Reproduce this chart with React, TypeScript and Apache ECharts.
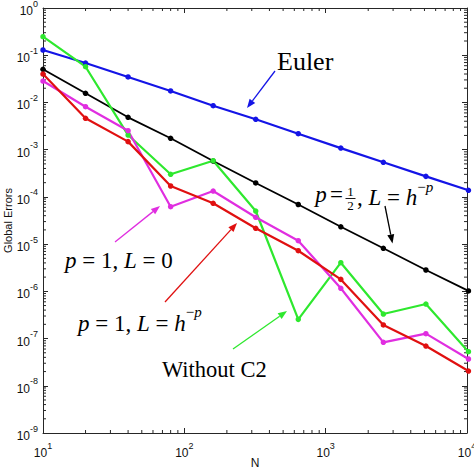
import React, { useEffect, useRef } from 'react';
import * as echarts from 'echarts';

// Number of steps N (h = 1/N)
const N = [10, 20, 40, 80, 160, 320, 640, 1280, 2560, 5120, 10240];

// Global errors for each scheme
const eulerErr = [0.129, 0.0684, 0.0346, 0.0175, 0.00853, 0.0044, 0.00218, 0.00108, 5.4e-4, 2.72e-4, 1.38e-4];
const halfHpErr = [0.0504, 0.0156, 0.00484, 0.00174, 5.75e-4, 1.97e-4, 6.9e-5, 2.33e-5, 8.15e-6, 2.83e-6, 1.02e-6];
const oneHpErr = [0.04, 0.00461, 0.00148, 1.7e-4, 7.31e-5, 2.16e-5, 7.24e-6, 1.79e-6, 1.94e-7, 6.95e-8, 2.05e-8];
const oneL0Err = [0.0284, 0.00813, 0.00252, 6.19e-5, 1.33e-4, 3.7e-5, 1.18e-5, 1.16e-6, 8.32e-8, 1.27e-7, 3.69e-8];
const noC2Err = [0.247, 0.0571, 0.00204, 3.01e-4, 5.83e-4, 5.02e-5, 2.55e-7, 4.04e-6, 3.31e-7, 5.38e-7, 5.26e-8];

// Axis ranges and minor tick positions (2..9 times each decade)
const X_MIN = 10;
const X_MAX = 10000;
const Y_MIN = 1e-9;
const Y_MAX = 1;
const minorMultipliers = [2, 3, 4, 5, 6, 7, 8, 9];
const xMinorDecades = [1, 2, 3];
const yMinorDecades = [-9, -8, -7, -6, -5, -4, -3, -2, -1];

const BLUE = '#1414e6';
const BLACK = '#000000';
const RED = '#e01010';
const GREEN = '#2ee82e';
const MAGENTA = '#e02ee0';
const AXIS = '#262626';

const sans = '"Liberation Sans", Arial, Helvetica, sans-serif';
const serif = '"Liberation Serif", "Times New Roman", serif';

const tickLabelRich = {
  b: { fontFamily: sans, fontSize: 12, lineHeight: 18, verticalAlign: 'bottom', color: '#111' },
  s: { fontFamily: sans, fontSize: 9, lineHeight: 8, verticalAlign: 'top', color: '#111' },
};
const powerLabel = (v: number) => `{b|10}{s|${Math.round(Math.log10(v))}}`;

function arrow(x1: number, y1: number, x2: number, y2: number, color: string) {
  const ang = Math.atan2(y2 - y1, x2 - x1);
  const len = 9;
  const half = 3.5;
  const bx = x2 - len * Math.cos(ang);
  const by = y2 - len * Math.sin(ang);
  const px = -Math.sin(ang) * half;
  const py = Math.cos(ang) * half;
  return [
    { type: 'line', silent: true, shape: { x1, y1, x2: bx, y2: by }, style: { stroke: color, lineWidth: 1.3 } },
    {
      type: 'polygon',
      silent: true,
      shape: { points: [[x2, y2], [bx + px, by + py], [bx - px, by - py]] },
      style: { fill: color },
    },
  ];
}

function mathRich(size: number, boxH: number) {
  return {
    n: { fontFamily: serif, fontSize: size, lineHeight: boxH, verticalAlign: 'bottom', fill: '#000' },
    i: { fontFamily: serif, fontSize: size, fontStyle: 'italic', lineHeight: boxH, verticalAlign: 'bottom', fill: '#000' },
    sn: { fontFamily: serif, fontSize: 15, lineHeight: 14, verticalAlign: 'top', fill: '#000' },
    si: { fontFamily: serif, fontSize: 15, fontStyle: 'italic', lineHeight: 14, verticalAlign: 'top', fill: '#000' },
  };
}

function lineSeries(name: string, values: number[], color: string, width: number) {
  return {
    name,
    type: 'line',
    data: N.map((n, i) => [n, values[i]]),
    symbol: 'circle',
    symbolSize: 5.5,
    clip: false,
    lineStyle: { color, width },
    itemStyle: { color },
    emphasis: { disabled: true },
  };
}

export default function App() {
  const ref = useRef<HTMLDivElement>(null);

  useEffect(() => {
    if (!ref.current) return;
    const chart = echarts.init(ref.current, undefined, { renderer: 'svg' });

    const xMinor = xMinorDecades.flatMap((d) => minorMultipliers.map((m) => m * Math.pow(10, d)));
    const yMinor = yMinorDecades.flatMap((d) => minorMultipliers.map((m) => m * Math.pow(10, d)));

    const tickStyle = { stroke: AXIS, lineWidth: 1 };

    const option: any = {
      animation: false,
      backgroundColor: '#ffffff',
      grid: { left: 43, right: 7, top: 8, bottom: 41, outerBoundsMode: 'none' },
      xAxis: [
        {
          type: 'log',
          logBase: 10,
          min: X_MIN,
          max: X_MAX,
          position: 'bottom',
          splitNumber: 3,
          axisLine: { show: true, lineStyle: { color: AXIS, width: 1 } },
          axisTick: { show: true, inside: true, length: 5, lineStyle: { color: AXIS, width: 1 } },
          splitLine: { show: false },
          minorTick: { show: false },
          axisLabel: { formatter: powerLabel, rich: tickLabelRich, margin: 8 },
          name: 'N',
          nameLocation: 'middle',
          nameGap: 24,
          nameMoveOverlap: false,
          nameTextStyle: { fontFamily: sans, fontSize: 12, color: '#111' },
        },
        {
          type: 'log',
          logBase: 10,
          min: X_MIN,
          max: X_MAX,
          position: 'top',
          splitNumber: 3,
          axisLine: { show: true, lineStyle: { color: AXIS, width: 1 } },
          axisTick: { show: true, inside: true, length: 5, lineStyle: { color: AXIS, width: 1 } },
          splitLine: { show: false },
          axisLabel: { show: false },
        },
      ],
      yAxis: [
        {
          type: 'log',
          logBase: 10,
          min: Y_MIN,
          max: Y_MAX,
          position: 'left',
          splitNumber: 9,
          axisLine: { show: true, lineStyle: { color: AXIS, width: 1 } },
          axisTick: { show: true, inside: true, length: 5, lineStyle: { color: AXIS, width: 1 } },
          splitLine: { show: false },
          axisLabel: { formatter: powerLabel, rich: tickLabelRich, margin: 5 },
          name: 'Global Errors',
          nameLocation: 'middle',
          nameGap: 30,
          nameMoveOverlap: false,
          nameTextStyle: { fontFamily: sans, fontSize: 11, color: '#111' },
        },
        {
          type: 'log',
          logBase: 10,
          min: Y_MIN,
          max: Y_MAX,
          position: 'right',
          splitNumber: 9,
          axisLine: { show: true, lineStyle: { color: AXIS, width: 1 } },
          axisTick: { show: true, inside: true, length: 5, lineStyle: { color: AXIS, width: 1 } },
          splitLine: { show: false },
          axisLabel: { show: false },
        },
      ],
      series: [
        {
          type: 'custom',
          coordinateSystem: 'cartesian2d',
          silent: true,
          clip: false,
          data: xMinor.map((v) => [v, Y_MAX]),
          renderItem: (_p: any, api: any) => {
            const v = api.value(0);
            const b = api.coord([v, Y_MIN]);
            const t = api.coord([v, Y_MAX]);
            return {
              type: 'group',
              children: [
                { type: 'line', shape: { x1: b[0], y1: b[1], x2: b[0], y2: b[1] - 3 }, style: tickStyle },
                { type: 'line', shape: { x1: t[0], y1: t[1], x2: t[0], y2: t[1] + 3 }, style: tickStyle },
              ],
            };
          },
        },
        {
          type: 'custom',
          coordinateSystem: 'cartesian2d',
          silent: true,
          clip: false,
          data: yMinor.map((v) => [X_MIN, v]),
          renderItem: (_p: any, api: any) => {
            const v = api.value(1);
            const l = api.coord([X_MIN, v]);
            const r = api.coord([X_MAX, v]);
            return {
              type: 'group',
              children: [
                { type: 'line', shape: { x1: l[0], y1: l[1], x2: l[0] + 3, y2: l[1] }, style: tickStyle },
                { type: 'line', shape: { x1: r[0], y1: r[1], x2: r[0] - 3, y2: r[1] }, style: tickStyle },
              ],
            };
          },
        },
        lineSeries('Euler', eulerErr, BLUE, 2.2),
        lineSeries('p=1/2, L=h^-p', halfHpErr, BLACK, 1.8),
        lineSeries('Without C2', noC2Err, GREEN, 2.2),
        lineSeries('p=1, L=0', oneL0Err, MAGENTA, 2.2),
        lineSeries('p=1, L=h^-p', oneHpErr, RED, 2.2),
      ],
      graphic: [
        // Euler
        {
          type: 'text',
          x: 277,
          y: 61,
          silent: true,
          style: { text: 'Euler', fontFamily: serif, fontSize: 26, fill: '#000', verticalAlign: 'middle' },
        },
        ...arrow(275, 71, 247, 108, BLUE),
        // p = 1/2, L = h^{-p}
        {
          type: 'text',
          x: 343,
          y: 194,
          silent: true,
          style: {
            text: '{i|p} {n|=}',
            rich: mathRich(23, 23),
            align: 'right',
            verticalAlign: 'middle',
          },
        },
        {
          type: 'text',
          x: 350.5,
          y: 191.5,
          silent: true,
          style: { text: '1', fontFamily: serif, fontSize: 13, fill: '#000', align: 'center', verticalAlign: 'middle' },
        },
        {
          type: 'line',
          silent: true,
          shape: { x1: 345.5, y1: 198.5, x2: 355.5, y2: 198.5 },
          style: { stroke: '#000', lineWidth: 0.9 },
        },
        {
          type: 'text',
          x: 350.5,
          y: 205.5,
          silent: true,
          style: { text: '2', fontFamily: serif, fontSize: 13, fill: '#000', align: 'center', verticalAlign: 'middle' },
        },
        {
          type: 'text',
          x: 357,
          y: 194,
          silent: true,
          style: {
            text: '{n|, }{i|L}{n| = }{i|h}{sn|\u2212}{si|p}',
            rich: mathRich(23, 30),
            align: 'left',
            verticalAlign: 'middle',
          },
        },
        ...arrow(385, 206, 392.5, 243.5, BLACK),
        // p = 1, L = 0
        {
          type: 'text',
          x: 65,
          y: 260.5,
          silent: true,
          style: {
            text: '{i|p}{n| = 1, }{i|L}{n| = 0}',
            rich: mathRich(23, 23),
            verticalAlign: 'middle',
          },
        },
        ...arrow(115, 242, 160, 206, MAGENTA),
        // p = 1, L = h^{-p}
        {
          type: 'text',
          x: 78,
          y: 319.5,
          silent: true,
          style: {
            text: '{i|p}{n| = 1, }{i|L}{n| = }{i|h}{sn|\u2212}{si|p}',
            rich: mathRich(23, 30),
            verticalAlign: 'middle',
          },
        },
        ...arrow(165, 302, 237, 223, RED),
        // Without C2
        {
          type: 'text',
          x: 162,
          y: 369.5,
          silent: true,
          style: { text: 'Without C2', fontFamily: serif, fontSize: 22.5, fill: '#000', verticalAlign: 'middle' },
        },
        ...arrow(233, 349, 287, 311, GREEN),
      ],
    };

    chart.setOption(option);
    return () => chart.dispose();
  }, []);

  return <div ref={ref} style={{ width: 474, height: 474, position: 'absolute', left: 0, top: 0 }} />;
}
